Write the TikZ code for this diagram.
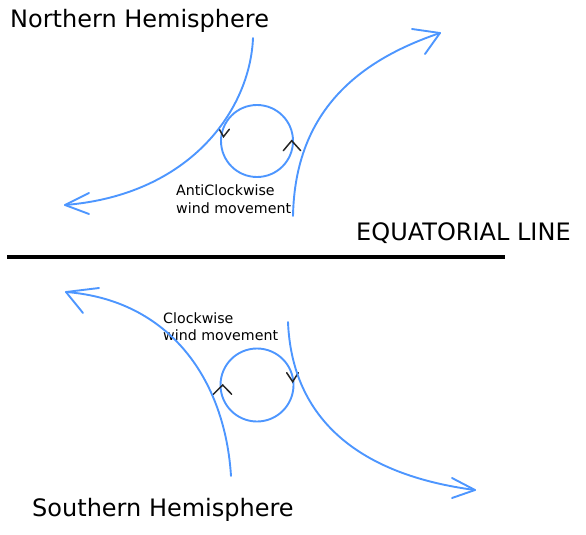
\documentclass[tikz,border=0pt]{standalone}
\usepackage{fontspec}
\setmainfont{DejaVu Sans}
\begin{document}
\begin{tikzpicture}[x=1pt,y=-1pt,
  wind/.style={draw=windblue,line width=1.9pt,line cap=round,line join=round},
  chev/.style={draw=black!85,line width=1.5pt,line cap=round},
  bigtxt/.style={anchor=base west,inner sep=0pt,font=\fontsize{24}{28}\selectfont},
  smalltxt/.style={anchor=base west,inner sep=0pt,align=left,font=\fontsize{14.2}{18}\selectfont}]
\definecolor{windblue}{RGB}{77,150,255}
\useasboundingbox (0,0) rectangle (586,535);
% texts
\node[bigtxt] (nh) at (10,28) {Northern Hemisphere};
\node[bigtxt] (eq) at (356,240) {EQUATORIAL LINE};
\node[bigtxt] (sh) at (32,516) {Southern Hemisphere};
\node[smalltxt] (acw1) at (176,195) {AntiClockwise};
\node[smalltxt] (acw2) at (176,213) {wind movement};
\node[smalltxt] (cw1) at (163,323) {Clockwise};
\node[smalltxt] (cw2) at (163,340) {wind movement};
% equator
\draw[line width=4pt] (7,257) -- (505,257);
% circles
\draw[wind] (257,141) circle (36);
\draw[wind] (257,385) circle (36.5);
% chevrons
\draw[chev] (219.3,129.3) -- (223.5,136.7) -- (229.3,129.3);
\draw[chev] (283.3,150.7) -- (291.7,140.7) -- (300.7,150.7);
\draw[chev] (213.3,394.3) -- (222.7,385) -- (231.7,394.3);
\draw[chev] (286.7,372.7) -- (292.7,381.7) -- (298.3,372.7);
% curved arrows
\draw[wind] (253,38) .. controls (250,110) and (190,195) .. (65,205);
\draw[wind] (89,193) -- (65,205) -- (89,214);
\draw[wind] (293,216) .. controls (295,110) and (360,60) .. (440,33);
\draw[wind] (412,29) -- (440,33) -- (425,54);
\draw[wind] (231,476) .. controls (225,380) and (170,300) .. (66,292);
\draw[wind] (99,288) -- (66,292) -- (83,313);
\draw[wind] (288,322) .. controls (292,420) and (360,475) .. (475,490);
\draw[wind] (452,478) -- (475,490) -- (452,498);
\end{tikzpicture}
\end{document}
